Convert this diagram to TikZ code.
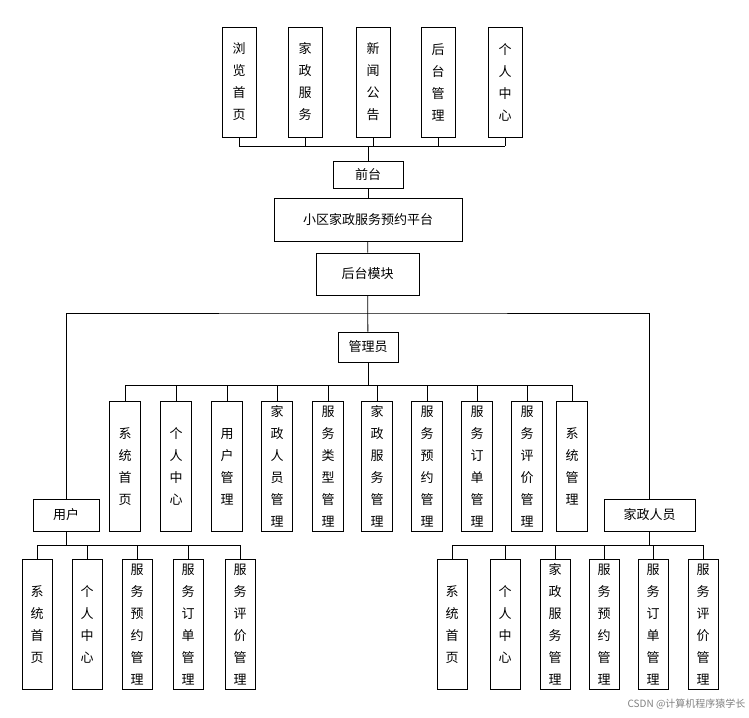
\documentclass[tikz,border=0pt]{standalone}
\usepackage{fontspec}
\newfontfamily\cjk{Noto Sans CJK SC}
\begin{document}
\begin{tikzpicture}[x=1pt,y=-1pt,
  box/.style={draw,thick,inner sep=0pt,font=\cjk\fontsize{13}{22}\selectfont,align=center},
  vbox/.style={box,minimum width=31pt,minimum height=130pt},
  tbox/.style={box,minimum width=34pt,minimum height=110pt},
  ln/.style={thick}]
\useasboundingbox (0,0) rectangle (749,717);
% top
\foreach \n/\x/\t in {t1/239/浏\\览\\首\\页, t2/305/家\\政\\服\\务, t3/373/新\\闻\\公\\告, t4/438/后\\台\\管\\理, t5/505/个\\人\\中\\心}
  \node[tbox] (\n) at (\x,82) {\t};
\node[box,minimum width=70pt,minimum height=27pt] (qt) at (368,174.5) {前台};
\node[box,minimum width=188pt,minimum height=43pt] (pt) at (368,219.5) {小区家政服务预约平台};
\node[box,minimum width=103pt,minimum height=42pt] (ht) at (367.5,274) {后台模块};
\node[box,minimum width=60pt,minimum height=30pt] (gly) at (368,347) {管理员};
\node[box,minimum width=66pt,minimum height=32pt] (yh) at (66,515) {用户};
\node[box,minimum width=91pt,minimum height=32pt] (jz) at (649.5,515) {家政人员};
\coordinate (bt) at (368,146);
\foreach \n in {t1,t2,t3,t4,t5} \draw[ln] (\n.south) -- (\n.south |- bt);
\draw[ln] (t1.south |- bt) -- (t5.south |- bt);
\draw[ln] (bt) -- (qt.north);
\draw[ln] (qt) -- (pt);
\draw[ln] (pt) -- (ht);
\draw[ln] (ht) -- (gly);
\coordinate (b2) at (368,313);
\draw[ln] (yh.north) |- (b2) -| (jz.north);
% admin children
\coordinate (b3) at (368,385);
\foreach \n/\x/\t in {a1/125/系\\统\\首\\页, a2/176/个\\人\\中\\心, a3/227/用\\户\\管\\理, a4/277/家\\政\\人\\员\\管\\理, a5/328/服\\务\\类\\型\\管\\理, a6/377/家\\政\\服\\务\\管\\理, a7/427/服\\务\\预\\约\\管\\理, a8/477/服\\务\\订\\单\\管\\理, a9/527/服\\务\\评\\价\\管\\理, a10/572/系\\统\\管\\理}
  {\node[vbox,anchor=north] (\n) at (\x,401) {\t};
   \draw[ln] (\n.north) -- (\n.north |- b3);}
\draw[ln] (gly) -- (b3);
\draw[ln] (a1.north |- b3) -- (a10.north |- b3);
% user children
\coordinate (b4) at (66,545);
\foreach \n/\x/\t in {u1/37/系\\统\\首\\页, u2/87/个\\人\\中\\心, u3/137/服\\务\\预\\约\\管\\理, u4/188/服\\务\\订\\单\\管\\理, u5/240/服\\务\\评\\价\\管\\理}
  {\node[vbox,minimum width=30pt,anchor=north] (\n) at (\x,559) {\t};
   \draw[ln] (\n.north) -- (\n.north |- b4);}
\draw[ln] (yh) -- (b4);
\draw[ln] (u1.north |- b4) -- (u5.north |- b4);
% staff children
\coordinate (b5) at (649.5,545);
\foreach \n/\x/\t in {s1/452/系\\统\\首\\页, s2/505/个\\人\\中\\心, s3/555/家\\政\\服\\务\\管\\理, s4/604/服\\务\\预\\约\\管\\理, s5/653/服\\务\\订\\单\\管\\理, s6/703/服\\务\\评\\价\\管\\理}
  {\node[vbox,minimum width=30pt,anchor=north] (\n) at (\x,559) {\t};
   \draw[ln] (\n.north) -- (\n.north |- b5);}
\draw[ln] (jz) -- (b5);
\draw[ln] (s1.north |- b5) -- (s6.north |- b5);
\node[font=\cjk\fontsize{10}{12}\selectfont,text=gray,anchor=east] (wm) at (749,704) {CSDN @计算机程序猿学长};
\end{tikzpicture}
\end{document}
